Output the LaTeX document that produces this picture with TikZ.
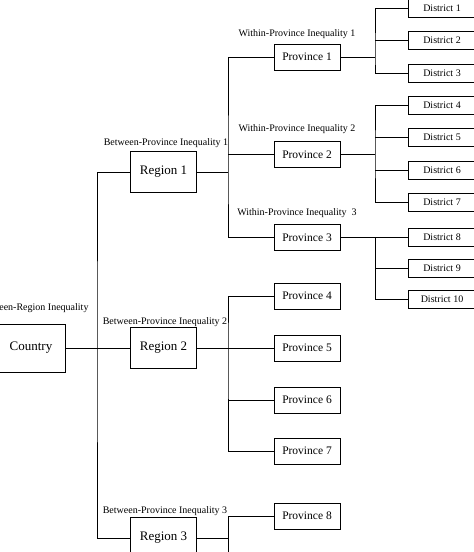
\documentclass[tikz,border=0pt]{standalone}
\usepackage{fontspec}
\setmainfont{Liberation Serif}
\begin{document}
\begin{tikzpicture}[x=1pt,y=-1pt,
  line width=1pt,
  bigbox/.style={draw, minimum width=66pt, minimum height=41pt, inner sep=0pt, font=\fontsize{13}{15}\selectfont},
  provbox/.style={draw, minimum width=66pt, minimum height=26pt, inner sep=0pt, font=\fontsize{11.5}{13}\selectfont},
  distbox/.style={draw, minimum width=68pt, minimum height=18pt, inner sep=0pt, font=\fontsize{10}{12}\selectfont},
  lab/.style={inner sep=0pt, font=\fontsize{10}{12}\selectfont}]
\clip (0,0) rectangle (474,552);
\fill[white] (0,0) rectangle (474,552);
% nodes
\node[bigbox, minimum width=68pt, minimum height=48pt] (c) at (31,348) {Country};
\node[bigbox] (r1) at (163.5,172) {Region 1};
\node[bigbox] (r2) at (163.5,348) {Region 2};
\node[bigbox] (r3) at (163.5,538) {Region 3};
\node[provbox] (p1) at (307,57) {Province 1};
\node[provbox] (p2) at (307,154.5) {Province 2};
\node[provbox] (p3) at (307,237.5) {Province 3};
\node[provbox] (p4) at (307,296) {Province 4};
\node[provbox] (p5) at (307,348) {Province 5};
\node[provbox] (p6) at (307,400) {Province 6};
\node[provbox] (p7) at (307,451) {Province 7};
\node[provbox] (p8) at (307,516) {Province 8};
\node[distbox] (d1) at (442,8.5) {District 1};
\node[distbox] (d2) at (442,40.5) {District 2};
\node[distbox] (d3) at (442,73) {District 3};
\node[distbox] (d4) at (442,105) {District 4};
\node[distbox] (d5) at (442,137.5) {District 5};
\node[distbox] (d6) at (442,170) {District 6};
\node[distbox] (d7) at (442,202.5) {District 7};
\node[distbox] (d8) at (442,237.5) {District 8};
\node[distbox] (d9) at (442,268) {District 9};
\node[distbox] (d10) at (442,299) {District 10};
% labels
\node[lab, anchor=east] (lc) at (89,308) {Between-Region Inequality};
\node[lab] (lr1) at (166,143) {Between-Province Inequality 1};
\node[lab] (lr2) at (165,322) {Between-Province Inequality 2};
\node[lab] (lr3) at (165,511) {Between-Province Inequality 3};
\node[lab] (lp1) at (297,34) {Within-Province Inequality 1};
\node[lab] (lp2) at (297,129) {Within-Province Inequality 2};
\node[lab] (lp3) at (297,213) {Within-Province Inequality\ \ 3};
% trunk coordinates
\coordinate (t0) at (97,348);
\coordinate (t1) at (228,172);
\coordinate (t2) at (228,348);
\coordinate (t3) at (228,538);
\coordinate (e3) at (228,570);
\coordinate (u1) at (375,57);
\coordinate (u2) at (375,154.5);
\coordinate (u3) at (375,237.5);
% connectors
\draw (c.east) -- (r2.west);
\draw (r1.west) -| (t0) |- (r3.west);
\draw (r1.east) -- (t1);
\draw (p1.west) -| (t1) |- (p3.west);
\draw (p2.west) -- (p2.west -| t1);
\draw (r2.east) -- (p5.west);
\draw (p4.west) -| (t2) |- (p7.west);
\draw (p6.west) -- (p6.west -| t2);
\draw (r3.east) -- (t3);
\draw (p8.west) -| (e3);
\draw (p1.east) -- (u1);
\draw (d1.west) -| (u1) |- (d3.west);
\draw (d2.west) -- (d2.west -| u1);
\draw (p2.east) -- (u2);
\draw (d4.west) -| (u2) |- (d7.west);
\draw (d5.west) -- (d5.west -| u2);
\draw (d6.west) -- (d6.west -| u2);
\draw (p3.east) -- (d8.west);
\draw (d8.west -| u3) |- (d10.west);
\draw (d9.west) -- (d9.west -| u3);
\end{tikzpicture}
\end{document}
